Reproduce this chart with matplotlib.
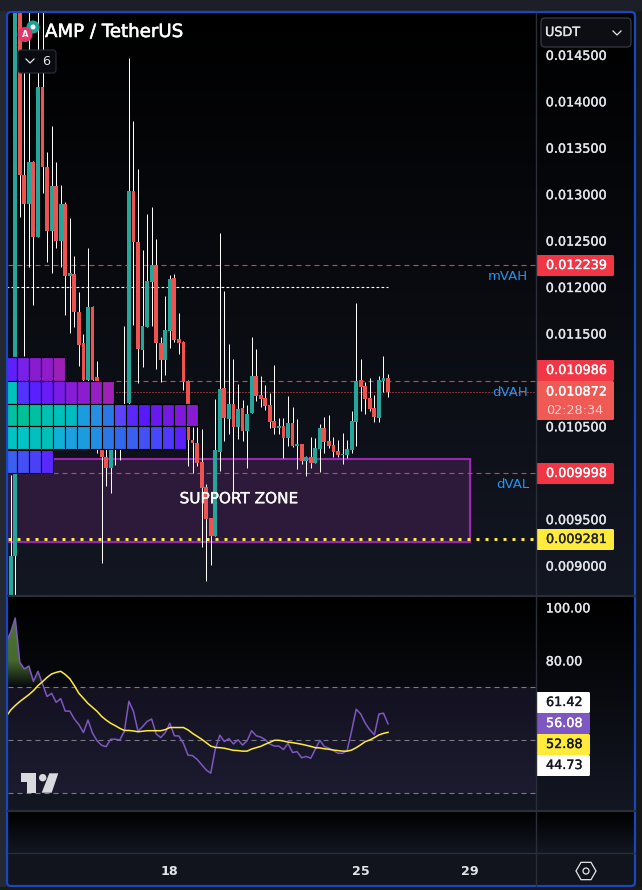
import numpy as np
import matplotlib
matplotlib.use("Agg")
import matplotlib.pyplot as plt
import matplotlib.patheffects as pe
from matplotlib.colors import LinearSegmentedColormap
from matplotlib.patches import Rectangle, FancyBboxPatch, Circle, Polygon, RegularPolygon

# 4h candles, prices in millionths of USDT
opens = [8521, 9103, 15300, 13206, 12894, 13346, 12539, 14154, 13292, 12603,
         13088, 12495, 12894, 12118, 12140, 11731, 11397, 10998, 11785, 11031,
         10988, 10169, 10051, 10300, 10500, 10400, 10751, 13034, 12485, 11322,
         11569, 12054, 12237, 11397, 11214, 11526, 12097, 11440, 11408, 10988,
         10352, 10320, 10115, 9846, 9512, 9318, 10223, 10912, 10578, 10740,
         10492, 10697, 10449, 10643, 11041, 10837, 10805, 10729, 10557, 10481,
         10503, 10374, 10535, 10288, 10309, 10126, 10169, 10105, 10255, 10481,
         10341, 10298, 10234, 10191, 10191, 10245, 10546, 10998, 10934, 10805,
         10697, 10589, 10988, 11020]
highs = [9975, 15300, 15300, 14412, 15300, 13357, 15300, 15300, 13454, 13734,
         13346, 13099, 12916, 12743, 12334, 11946, 11494, 12420, 11795, 11203,
         10988, 10500, 10500, 10600, 10700, 11580, 14466, 13788, 13271, 12398,
         12786, 12862, 12517, 11461, 11903, 12129, 12140, 11720, 11418, 10998,
         10492, 10492, 10471, 9878, 9512, 10794, 12582, 11957, 11386, 11224,
         10955, 10783, 10729, 11461, 11332, 11041, 10944, 10858, 11160, 10589,
         10589, 10826, 10708, 10578, 10309, 10180, 10384, 10374, 10525, 10600,
         10621, 10384, 10352, 10428, 10352, 10666, 11828, 11224, 10977, 11020,
         10837, 11041, 11257, 11063]
lows = [8500, 8600, 12754, 11257, 12215, 11806, 12539, 13012, 12269, 12151,
        12420, 12215, 11699, 11505, 11569, 11149, 10950, 10950, 10966, 10212,
        9028, 9857, 9781, 10083, 10137, 10400, 10400, 11591, 10966, 11138,
        11569, 11580, 11117, 10977, 11052, 11343, 11408, 11278, 10891, 10072,
        9997, 10072, 9200, 8834, 9006, 9318, 10018, 10342, 10417, 9792,
        10363, 10342, 10051, 10643, 10772, 10708, 10675, 10481, 10417, 10417,
        10158, 10288, 10277, 10040, 10094, 9964, 10051, 10105, 10008, 10212,
        10266, 10169, 10169, 10094, 10158, 10212, 10288, 10664, 10632, 10664,
        10546, 10546, 10869, 10815]
closes = [9103, 15300, 13206, 12894, 13346, 12539, 14154, 13292, 12603, 13088,
          12495, 12894, 12118, 12151, 11731, 11375, 10998, 11785, 10998, 10988,
          10169, 10051, 10245, 10400, 10350, 10700, 13034, 12485, 11332, 11580,
          12065, 12237, 11397, 11214, 11537, 12086, 11429, 11397, 10977, 10352,
          10320, 10104, 9835, 9501, 9318, 10245, 10901, 10589, 10740, 10492,
          10686, 10449, 10632, 11041, 10826, 10794, 10718, 10546, 10481, 10503,
          10374, 10535, 10288, 10309, 10126, 10169, 10105, 10266, 10481, 10331,
          10288, 10223, 10191, 10201, 10255, 10557, 10988, 10923, 10794, 10686,
          10600, 10998, 11020, 10872]

# RSI and its moving average, first value sits one bar before the first candle
rsi = [86.9, 90.6, 96.0, 79.3, 76.8, 77.9, 72.1, 75.9, 71.1, 66.4, 67.6, 64.2, 65.6,
       60.9, 60.9, 57.9, 55.8, 52.8, 57.5, 52.6, 49.7, 48.0, 47.5, 50.3, 50.3, 50.0,
       53.3, 64.6, 60.8, 53.3, 55.0, 57.0, 57.9, 52.3, 50.9, 52.8, 56.3, 51.6, 51.5,
       48.7, 44.3, 44.1, 42.7, 40.7, 38.7, 37.5, 46.6, 51.8, 49.4, 50.5, 48.5, 50.1,
       48.1, 49.7, 53.5, 51.6, 51.1, 50.1, 48.5, 47.7, 47.7, 46.4, 48.7, 45.3, 45.6,
       43.3, 43.8, 43.1, 46.5, 49.9, 47.5, 46.9, 46.0, 45.0, 45.0, 46.0, 53.5, 61.6,
       59.8, 56.3, 53.8, 52.0, 59.8, 60.1, 56.08]
rsi_ma = [58.8, 61.3, 63.0, 64.5, 65.8, 67.1, 68.6, 70.5, 72.0, 73.6, 74.9, 75.5, 75.9,
          74.7, 73.1, 70.5, 67.6, 65.7, 63.8, 62.3, 60.8, 58.9, 57.5, 56.3, 55.4, 54.4,
          53.6, 53.6, 53.4, 53.1, 53.3, 53.5, 53.5, 53.5, 53.5, 53.9, 54.7, 54.7, 54.7,
          54.7, 53.8, 52.5, 51.4, 50.3, 49.0, 47.7, 47.2, 47.1, 46.9, 46.5, 46.1, 46.0,
          45.8, 45.8, 46.6, 47.1, 47.6, 48.4, 49.1, 49.9, 49.9, 49.6, 49.2, 49.0, 48.7,
          48.4, 48.0, 47.6, 47.1, 47.0, 46.7, 46.5, 46.2, 46.0, 45.8, 45.8, 46.2, 47.1,
          48.2, 49.4, 50.0, 50.9, 51.9, 52.5, 52.88]

# volume profile rows, top to bottom
profile_edges = [11241, 10993, 10745, 10498, 10250, 10002]
profile_colors = [
    ["#5f1fff", "#7a1fe8", "#8a1cd0", "#901ccc", "#9c1fb8"],
    ["#00c4bc", "#5533ff", "#5a20ff", "#6a1cf8", "#7a1ce8", "#861cd8", "#8c1cd0", "#961ec4", "#a020b8"],
    ["#00c0a0", "#00c098", "#00c0a4", "#00c0b0", "#00c0bc", "#00bcc0", "#1c9ce0", "#2490e4", "#2a78e8",
     "#5a44ff", "#5a28ff", "#5a18ff", "#6818f0", "#7418e4", "#8018dc", "#881cd4"],
    ["#00c4c4", "#00c4c8", "#00c0c0", "#00c0b8", "#10b0d8", "#1ca0e0", "#1c9ce0", "#2090e4", "#2a78e8",
     "#3068ee", "#3a60f0", "#4450f4", "#4848f8", "#5038ff", "#5a20ff"],
    ["#3a60f0", "#4450f4", "#4a40f8", "#5a28ff"],
]

price_ticks = [9000, 9500, 10500, 11500, 12000, 12500, 13000, 13500, 14000, 14500]
date_bars = [35, 77, 101]
date_labels = ["18", "25", "29"]
rsi_ticks = [100, 80]
rsi_levels = [70, 50, 30]
mvah, dvah, dval, last_price, yellow_level, poc_level = 12239, 10986, 9998, 10872, 9281, 12000
zone_top, zone_bottom, zone_end = 10148, 9254, 101

W, H = 642, 890
TEXT = "#e4e6eb"
GRID = "#2a2e39"
BLUE = "#1848c0"
RED = "#f23645"
LEVEL_TEXT = "#2196f3"
FS = 9.2

plt.rcParams["font.family"] = "DejaVu Sans"
fig = plt.figure(figsize=(W / 100, H / 100), dpi=100, facecolor="#1c1f28")


def pane(x0, y0, x1, y1, z=1):
    # axes placed by pixel box of the screenshot
    ax = fig.add_axes([x0 / W, 1 - y1 / H, (x1 - x0) / W, (y1 - y0) / H], zorder=z)
    ax.patch.set_alpha(0)
    for s in ax.spines.values():
        s.set_visible(False)
    return ax


def heavy(t, w=0.25):
    # the screenshot text is a little thicker than plain DejaVu
    t.set_path_effects([pe.withStroke(linewidth=w, foreground=t.get_color())])
    return t


# background with the pane gradients
bg = pane(0, 0, W, H, 0)
bg.axis("off")
fade = LinearSegmentedColormap.from_list("fade", ["#000000", "#131722"])
grad = np.linspace(0, 1, 256).reshape(-1, 1)
for top, bottom in [(13, 595), (596, 810), (811, 853)]:
    bg.imshow(grad, extent=(8, 635, bottom, top), cmap=fade, aspect="auto", vmin=0, vmax=1)
bg.add_patch(Rectangle((8, 853), 627, 33, color="#11141c", lw=0))
bg.set_xlim(0, W)
bg.set_ylim(H, 0)

xlim = (-0.594, 115.55)
bars = np.arange(len(opens))
o, h, l, c = [np.array(a) / 1e6 for a in (opens, highs, lows, closes)]

# price pane
ax = pane(8, 13, 536, 595)
ax.set_xlim(*xlim)
ax.set_ylim(8683 / 1e6, 14951 / 1e6)
ax.add_patch(Rectangle((-1, zone_bottom / 1e6), zone_end + 1, (zone_top - zone_bottom) / 1e6,
                       facecolor="#2d1a3a", edgecolor="#9c27b0", lw=1.5, zorder=1))
heavy(ax.text(50.2, 9.72e-3, "SUPPORT ZONE", color="white", fontsize=11, ha="center", va="center", zorder=6))
for lev in (mvah, dvah, dval):
    ax.axhline(lev / 1e6, color=RED, lw=0.8, ls=(0, (4.5, 3.6)), zorder=2)
ax.plot([-1, 83], [poc_level / 1e6] * 2, color="white", lw=0.8, ls=(0, (2.5, 2)), zorder=2)
ax.axhline(last_price / 1e6, color="#ef5350", lw=0.72, ls=(0, (1, 2)), zorder=2)
ax.axhline(yellow_level / 1e6, color="#ffeb3b", lw=2.16, ls=(0, (1, 2)), zorder=2.5)

ax.vlines(bars, l, h, color="white", lw=0.72, zorder=3)
up = c >= o
colors = np.where(up, "#26a69a", "#ef5350")
ax.bar(bars, np.abs(c - o), bottom=np.minimum(o, c), width=0.85, color=colors, lw=0, zorder=4)

# volume profile on top of the candles
cell = 2.655
for r, row in enumerate(profile_colors):
    y_top, y_bot = profile_edges[r] / 1e6, profile_edges[r + 1] / 1e6
    lefts = -1.25 + cell * np.arange(len(row))
    ax.barh((y_top + y_bot) / 2, [cell] * len(row), left=lefts, height=y_top - y_bot,
            color=row, edgecolor="#000000", lw=0.8, zorder=5)

ax.text(113.8, 0.012108, "mVAH", color=LEVEL_TEXT, fontsize=9.5, ha="right", va="center", zorder=6)
ax.text(113.8, 0.010859, "dVAH", color=LEVEL_TEXT, fontsize=9.5, ha="right", va="center", zorder=6)
ax.text(114.0, 0.009878, "dVAL", color=LEVEL_TEXT, fontsize=9.5, ha="right", va="center", zorder=6)
ax.set_xticks([])
ax.yaxis.tick_right()
ax.set_yticks(np.array(price_ticks) / 1e6)
ax.set_yticklabels(["%.6f" % (t / 1e6) for t in price_ticks], color=TEXT, fontsize=FS)
ax.tick_params(axis="y", length=0, pad=7)
for t in ax.get_yticklabels():
    heavy(t)

# rsi pane
ax2 = pane(8, 596, 536, 810)
rsi_x = np.arange(-1, len(rsi) - 1)
ax2.axhspan(rsi_levels[2], rsi_levels[0], color="#7e57c2", alpha=0.1, lw=0, zorder=1)
for lev in rsi_levels:
    ax2.axhline(lev, color="#787b86", lw=0.8, ls=(0, (4.5, 3.6)), zorder=2)
# overbought area fades from green at the peak down to the 70 line
rsi_arr = np.array(rsi)
poly = ax2.fill_between(rsi_x, 70, rsi_arr, where=rsi_arr >= 70, interpolate=True, color="none", lw=0)
shade = np.zeros((64, 1, 4))
shade[..., :3] = matplotlib.colors.to_rgb("#5c8a3a")
shade[..., 3] = np.interp(np.linspace(96, 70, 64), [70, 80, 96], [0, 0.75, 0.85]).reshape(-1, 1)
im = ax2.imshow(shade, extent=(*xlim, 70, 96), aspect="auto", zorder=2)
im.set_clip_path(poly.get_paths()[0], transform=ax2.transData)
ax2.set_xlim(*xlim)
ax2.set_ylim(23.6, 104.3)
ax2.plot(rsi_x, rsi, color="#7e57c2", lw=1.1, zorder=3)
ax2.plot(rsi_x, rsi_ma, color="#ffeb3b", lw=1.1, zorder=4)
ax2.set_xticks([])
ax2.yaxis.tick_right()
ax2.set_yticks(rsi_ticks)
ax2.set_yticklabels(["%.2f" % t for t in rsi_ticks], color=TEXT, fontsize=FS)
ax2.tick_params(axis="y", length=0, pad=7)
for t in ax2.get_yticklabels():
    heavy(t)

# time scale
ax3 = pane(8, 853, 536, 886)
ax3.set_xlim(*xlim)
ax3.set_yticks([])
ax3.set_xticks(date_bars)
ax3.set_xticklabels(date_labels, color=TEXT, fontsize=FS, fontweight="bold")
ax3.tick_params(axis="x", length=0, pad=-15)

# overlay with screen furniture, in screenshot pixels
ui = pane(0, 0, W, H, 5)
ui.set_xlim(0, W)
ui.set_ylim(H, 0)
ui.axis("off")
ui.plot([536, 536], [13, 886], color=GRID, lw=1)
for y in (595.5, 810.5):
    ui.plot([8, 635], [y, y], color=GRID, lw=1.6)
ui.plot([8, 635], [853, 853], color=GRID, lw=1)
ui.add_patch(Rectangle((636, 0), 6, H, color="#161616", lw=0))
ui.add_patch(Rectangle((0, 0), 6, H, color="#242832", lw=0))
ui.add_patch(Rectangle((0, 0), W, 11, color="#1c1f28", lw=0))
ui.add_patch(Rectangle((0, 887), W, 3, color="#1a1a1a", lw=0))
ui.add_patch(FancyBboxPatch((7, 12), 628, 874, boxstyle="round,pad=0,rounding_size=4",
                            fill=False, edgecolor=BLUE, lw=1.6))


def tag(x1, y0, y1, color, label, tcolor="white", ty=None):
    ui.add_patch(FancyBboxPatch((536, y0), x1 - 536, y1 - y0, boxstyle="round,pad=0,rounding_size=1.5",
                                facecolor=color, lw=0))
    heavy(ui.text(546, (y0 + y1) / 2 if ty is None else ty, label, color=tcolor, fontsize=FS, va="center"))


tag(614, 255, 276, RED, "%.6f" % (mvah / 1e6))
tag(614, 360, 381, RED, "%.6f" % (dvah / 1e6))
tag(614, 381, 420, "#f05a54", "%.6f" % (last_price / 1e6), ty=392)
ui.text(546, 410, "02:28:34", color="#ffd0d0", fontsize=FS, va="center")
tag(614, 463, 484, RED, "%.6f" % (dval / 1e6))
tag(614, 529, 550, "#ffeb3b", "%.6f" % (yellow_level / 1e6), tcolor="#222222")
tag(590, 692, 713, "white", "61.42", tcolor="#131722")
tag(590, 713, 734, "#7e57c2", "56.08")
tag(590, 734, 755, "#ffeb3b", "52.88", tcolor="#131722")
tag(590, 755, 776, "white", "44.73", tcolor="#131722")

# symbol header
ui.add_patch(Circle((33, 27), 6.5, color="#1aa198", lw=0))
ui.add_patch(Circle((33, 27), 2.5, color="white", lw=0))
ui.add_patch(Circle((25, 34.5), 7.5, color="#e0386a", lw=0))
ui.text(25, 34.5, "A", color="white", fontsize=6, ha="center", va="center", weight="bold")
heavy(ui.text(45, 32, "AMP / TetherUS", color="white", fontsize=13.1, va="center"), 0.4)
ui.add_patch(FancyBboxPatch((18, 50), 38, 23, boxstyle="round,pad=0,rounding_size=3",
                            facecolor="#0a0b10", edgecolor=GRID, lw=0.8))
ui.plot([26, 30, 34], [59, 63, 59], color=TEXT, lw=0.9)
ui.text(46, 61.5, "6", color=TEXT, fontsize=FS, ha="center", va="center")

# currency button
ui.add_patch(FancyBboxPatch((541, 18), 90, 29, boxstyle="round,pad=0,rounding_size=4",
                            facecolor="#0c0e14", edgecolor="#363a45", lw=0.9))
heavy(ui.text(545, 32.5, "USDT", color=TEXT, fontsize=FS, va="center"))
ui.plot([613, 617, 621], [31, 35, 31], color=TEXT, lw=0.9)

# tradingview mark
ui.add_patch(Polygon([(20.7, 773.3), (36, 773.3), (36, 792.7), (27.3, 792.7), (27.3, 781.7), (20.7, 781.7)],
                     color="#d8dadd", lw=0))
ui.add_patch(Circle((42.7, 777.7), 3.7, color="#d8dadd", lw=0))
ui.add_patch(Polygon([(58.3, 773.3), (49.3, 773.3), (41.7, 792.7), (51.7, 792.7)], color="#d8dadd", lw=0))

# settings icon
ui.add_patch(RegularPolygon((586, 871), 6, radius=10, orientation=np.pi / 6, fill=False, edgecolor=TEXT, lw=0.9))
ui.add_patch(Circle((586, 871), 3, fill=False, edgecolor=TEXT, lw=0.9))

fig.savefig("out.png", dpi=100, facecolor=fig.get_facecolor())
